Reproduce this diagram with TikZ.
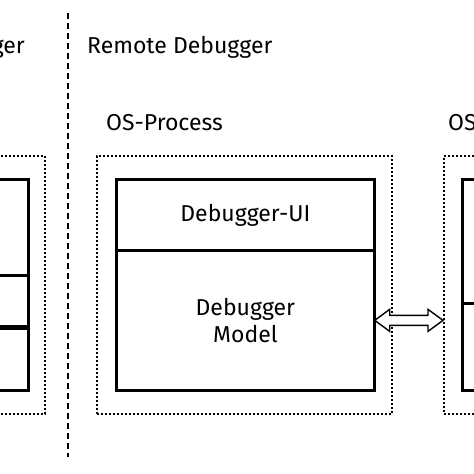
\documentclass[tikz,border=0pt]{standalone}
\usepackage{fontspec}
\setmainfont{Fira Sans}
\usetikzlibrary{calc}
\tikzset{
  lbl/.style={font=\fontsize{23}{27}\selectfont, inner sep=0pt},
  solidbox/.style={draw, line width=2.7pt, rectangle, inner sep=0pt, anchor=north west},
  dotbox/.style={draw, line width=1.7pt, dash pattern=on 1.7pt off 2.3pt, rectangle, inner sep=0pt, anchor=north west},
  sepline/.style={line width=1.5pt, dash pattern=on 6pt off 4pt},
  dblarrow/.style={draw, line width=1.4pt, fill=white, line join=miter},
}
\begin{document}
\begin{tikzpicture}[x=1pt, y=-1pt]
\useasboundingbox (0,0) rectangle (474,474);
\clip (0,0) rectangle (474,474);
% separator
\coordinate (s1) at (68,13);
\coordinate (s2) at (68,457);
\draw[sepline] (s1) -- (s2);
% titles
\node[lbl, anchor=base east] (ltitle) at (25,53) {Debugger};
\node[lbl, anchor=base west] (mtitle) at (87,53) {Remote Debugger};
\node[lbl, anchor=base west] (mproc) at (106,130) {OS-Process};
\node[lbl, anchor=base west] (rproc) at (448,130) {OS-Process};
% left partial
\node[dotbox, minimum width=64pt, minimum height=258pt] (ldot) at (-20,155) {};
\node[solidbox, minimum width=47pt, minimum height=96pt] (la) at (-20,178) {};
\node[solidbox, minimum width=47pt, minimum height=51pt] (lb) at (-20,274) {};
\node[solidbox, minimum width=47pt, minimum height=62pt] (lc) at (-20,327) {};
% middle
\node[dotbox, minimum width=295pt, minimum height=258pt] (mdot) at (96,155) {};
\node[solidbox, minimum width=258pt, minimum height=71pt] (ui) at (115,178) {};
\node[solidbox, minimum width=258pt, minimum height=140pt] (model) at (115,249) {};
\node[lbl] (uitext) at (ui.center) {Debugger-UI};
\node[lbl, align=center, font=\fontsize{23}{27}\selectfont] (modeltext) at (model.center) {Debugger\\Model};
% right partial
\node[dotbox, minimum width=60pt, minimum height=258pt] (rdot) at (443,155) {};
\node[solidbox, minimum width=40pt, minimum height=124pt] (ra) at (461,178) {};
\node[solidbox, minimum width=40pt, minimum height=87pt] (rb) at (461,302) {};
% double arrow
\coordinate (A) at ($(model.east)+(-1,0)$);
\coordinate (B) at (model.east -| rdot.west);
\draw[dblarrow] (A) -- ($(A)+(15,-11)$) -- ($(A)+(15,-5)$) -- ($(B)+(-15,-5)$) -- ($(B)+(-15,-11)$) -- (B)
  -- ($(B)+(-15,11)$) -- ($(B)+(-15,5)$) -- ($(A)+(15,5)$) -- ($(A)+(15,11)$) -- cycle;
\end{tikzpicture}
\end{document}
